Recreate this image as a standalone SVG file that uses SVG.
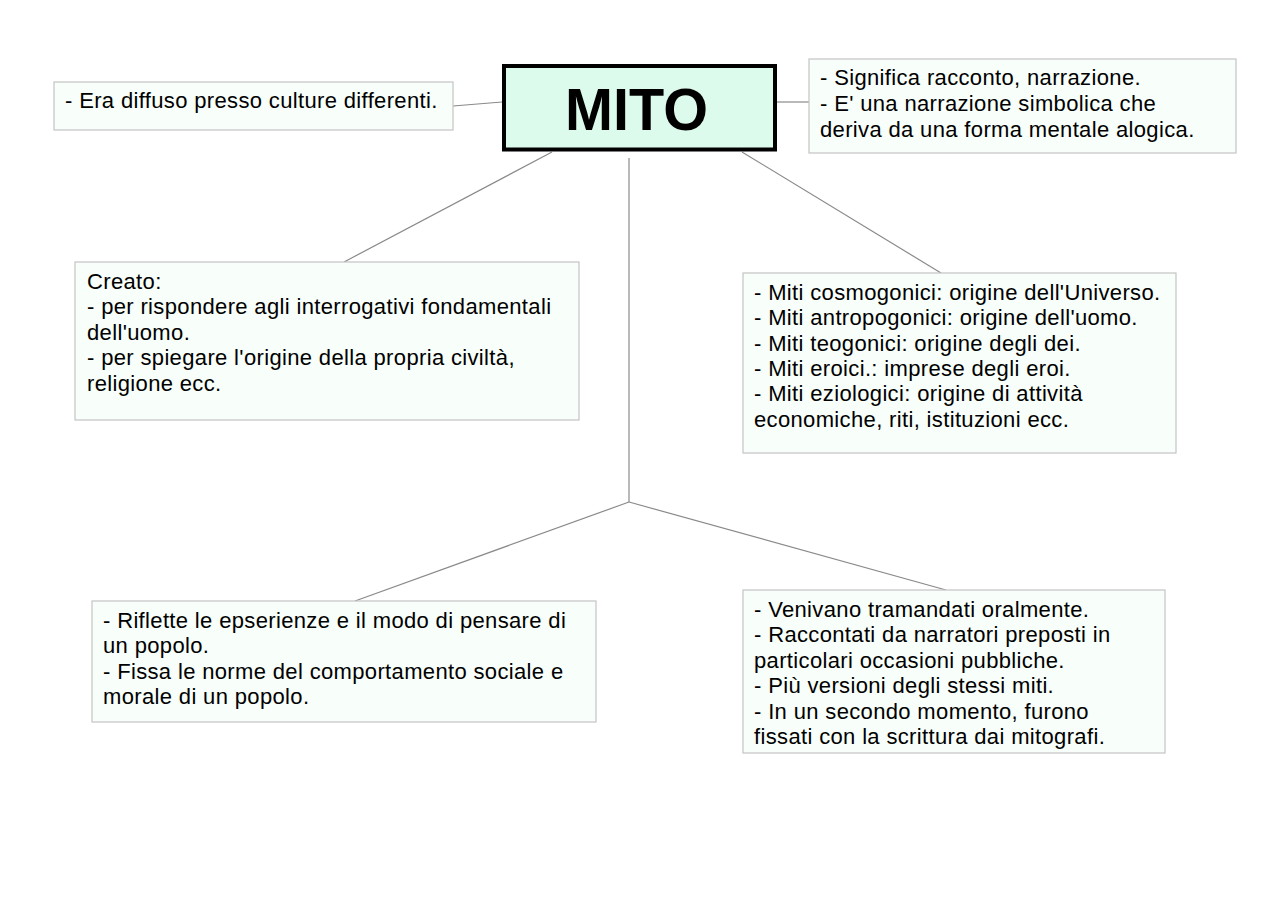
<svg xmlns="http://www.w3.org/2000/svg" width="1280" height="905" viewBox="0 0 1280 905">
<style>
.box{fill:#f8fef9;stroke:#c4c4c4;stroke-width:1.2}
.t{font-family:"Liberation Sans",Arial,sans-serif;font-size:22px;letter-spacing:0.35px;fill:#000}
.c{stroke:#8a8a8a;stroke-width:1.2;fill:none}
</style>
<rect width="1280" height="905" fill="#fff"/>
<g id="connectors">
<line class="c" x1="453" y1="106" x2="502" y2="102"/>
<line class="c" x1="777" y1="102" x2="809" y2="102"/>
<line class="c" x1="552" y1="152" x2="344" y2="262"/>
<line class="c" x1="742" y1="152" x2="941" y2="273"/>
<line class="c" x1="629" y1="158" x2="629" y2="502"/>
<line class="c" x1="629" y1="502" x2="355" y2="601"/>
<line class="c" x1="629" y1="502" x2="946" y2="590"/>
</g>
<g id="mito">
<rect x="504" y="66" width="271" height="83.5" fill="#ddfbec" stroke="#000" stroke-width="4"/>
<text x="565" y="130" font-family="Liberation Sans,Arial,sans-serif" font-weight="bold" font-size="60" textLength="143" lengthAdjust="spacingAndGlyphs">MITO</text>
</g>
<g id="diffuso">
<rect class="box" x="54" y="82" width="399" height="48"/>
<text class="t" x="65" y="108">- Era diffuso presso culture differenti.</text>
</g>
<g id="significa">
<rect class="box" x="809" y="59" width="427" height="94"/>
<text class="t"><tspan x="820" y="85">- Significa racconto, narrazione.</tspan><tspan x="820" y="111">- E' una narrazione simbolica che</tspan><tspan x="820" y="137">deriva da una forma mentale alogica.</tspan></text>
</g>
<g id="creato">
<rect class="box" x="75" y="262" width="504" height="158"/>
<text class="t"><tspan x="87" y="288.5">Creato:</tspan><tspan x="87" y="314">- per rispondere agli interrogativi fondamentali</tspan><tspan x="87" y="339.5">dell'uomo.</tspan><tspan x="87" y="365">- per spiegare l'origine della propria civiltà,</tspan><tspan x="87" y="390.5">religione ecc.</tspan></text>
</g>
<g id="tipi">
<rect class="box" x="743" y="273" width="433" height="180"/>
<text class="t"><tspan x="754" y="299.5">- Miti cosmogonici: origine dell'Universo.</tspan><tspan x="754" y="325">- Miti antropogonici: origine dell'uomo.</tspan><tspan x="754" y="350.5">- Miti teogonici: origine degli dei.</tspan><tspan x="754" y="375.5">- Miti eroici.: imprese degli eroi.</tspan><tspan x="754" y="401">- Miti eziologici: origine di attività</tspan><tspan x="754" y="426.5">economiche, riti, istituzioni ecc.</tspan></text>
</g>
<g id="riflette">
<rect class="box" x="92" y="601" width="504" height="121"/>
<text class="t"><tspan x="103" y="627.5">- Riflette le epserienze e il modo di pensare di</tspan><tspan x="103" y="653">un popolo.</tspan><tspan x="103" y="678.5">- Fissa le norme del comportamento sociale e</tspan><tspan x="103" y="704">morale di un popolo.</tspan></text>
</g>
<g id="venivano">
<rect class="box" x="743" y="590" width="422" height="163"/>
<text class="t"><tspan x="754" y="616.5">- Venivano tramandati oralmente.</tspan><tspan x="754" y="642">- Raccontati da narratori preposti in</tspan><tspan x="754" y="667.5">particolari occasioni pubbliche.</tspan><tspan x="754" y="693">- Più versioni degli stessi miti.</tspan><tspan x="754" y="718.5">- In un secondo momento, furono</tspan><tspan x="754" y="744">fissati con la scrittura dai mitografi.</tspan></text>
</g>
</svg>
